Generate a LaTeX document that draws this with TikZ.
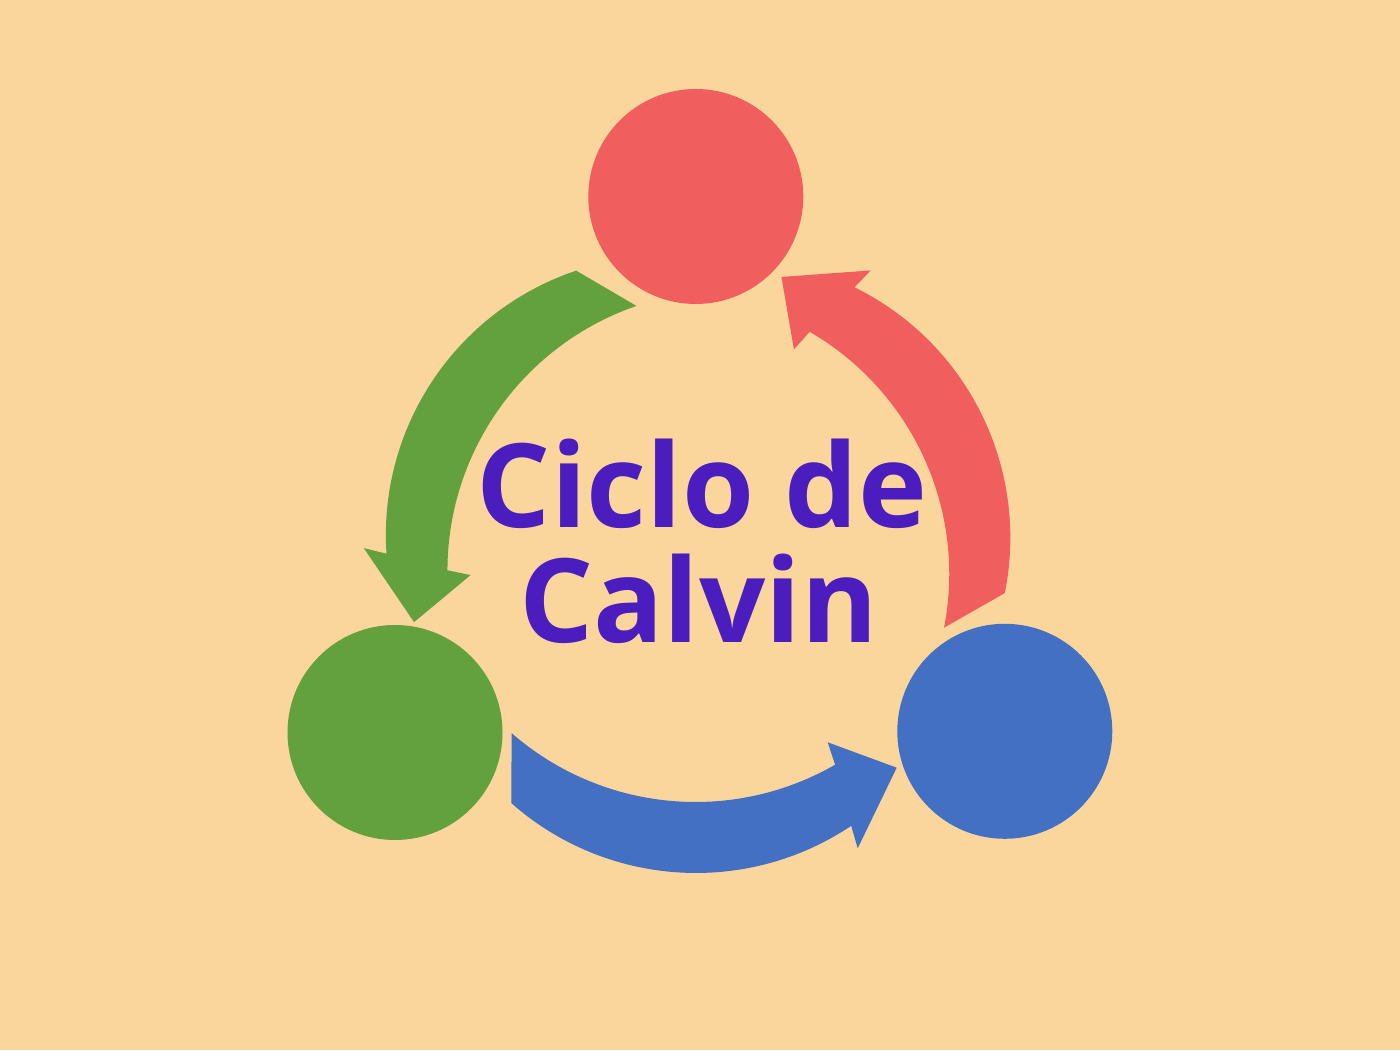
\documentclass[tikz,border=0pt]{standalone}
\usepackage{fontspec}
\newfontfamily\titlefont{Open Sans}
\usetikzlibrary{calc}
\definecolor{bgc}{HTML}{FAD69C}
\definecolor{redc}{HTML}{F05F5E}
\definecolor{greenc}{HTML}{63A03E}
\definecolor{bluec}{HTML}{4470C3}
\definecolor{textc}{HTML}{4B1DBF}
\tikzset{
  ball/.style={circle, inner sep=0pt, minimum size=215pt},
  titletext/.style={anchor=base, text=textc, inner sep=0pt,
    font=\titlefont\bfseries\fontsize{116.5}{115}\selectfont},
  cyclearrow/.pic={
    \path[pic actions]
      ($(695.5,528)+(-131.04:280)$)
      arc[start angle=-131.04, end angle=-60.1, radius=280pt]
      -- (827.7,307.7) -- (896.7,282.3) -- (857.7,201.7)
      -- ($(696,456)+(-56.2:279)$)
      arc[start angle=-56.2, end angle=-131.47, radius=279pt]
      -- cycle;
  }
}
\begin{document}
\begin{tikzpicture}[x=1pt, y=1pt]
  \useasboundingbox (0,0) rectangle (1400,1050);
  \fill[bgc] (0,0) rectangle (1400,1050);
  \coordinate (rc) at (697.4,494.4);
  % arrows
  \pic[fill=bluec] {cyclearrow};
  \begin{scope}[rotate around={-120:(rc)}]
    \pic[fill=greenc, transform shape] {cyclearrow};
  \end{scope}
  \begin{scope}[rotate around={120:(rc)}]
    \pic[fill=redc, transform shape] {cyclearrow};
  \end{scope}
  % circles
  \node[ball, fill=redc]   (top)   at (695.8,853.5) {};
  \node[ball, fill=greenc] (left)  at (395,317.5) {};
  \node[ball, fill=bluec]  (right) at (1004.8,318.7) {};
  % title
  \node[titletext] (line1) at (702,522.7) {Ciclo de};
  \node[titletext] (line2) at (698.5,407.3) {Calvin};
\end{tikzpicture}
\end{document}
